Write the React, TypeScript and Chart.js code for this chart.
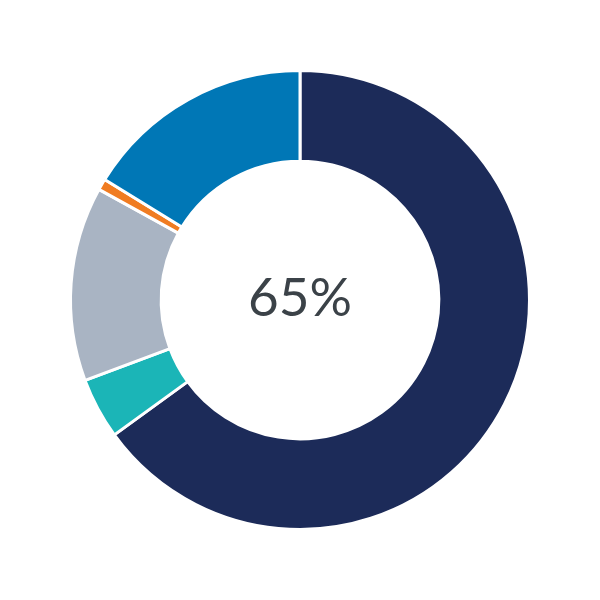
import React, { useEffect, useRef } from "react";
import { Chart, registerables } from "chart.js";

Chart.register(...registerables);

const categories = ["Navy", "Teal", "Gray", "Orange", "Blue"];
const values = [65, 4.3, 13.7, 0.8, 16.2];
const colors = ["#1c2b59", "#1bb5b7", "#a9b4c3", "#f07c22", "#0077b6"];
const centerLabel = "65%";

const centerTextPlugin = {
  id: "centerText",
  afterDraw(chart: any) {
    const meta = chart.getDatasetMeta(0);
    if (!meta || !meta.data.length) return;
    const arc = meta.data[0];
    const ctx = chart.ctx;
    ctx.save();
    ctx.font = "400 53px Lato";
    ctx.fillStyle = "#3b4248";
    ctx.textAlign = "center";
    ctx.textBaseline = "alphabetic";
    ctx.fillText(centerLabel, arc.x, arc.y + 16);
    ctx.restore();
  },
};

export default function App() {
  const ref = useRef<HTMLCanvasElement>(null);
  useEffect(() => {
    document.body.style.margin = "0";
    const chart = new Chart(ref.current!, {
      type: "doughnut",
      data: {
        labels: categories,
        datasets: [
          {
            data: values,
            backgroundColor: colors,
            borderColor: "#ffffff",
            borderWidth: 3,
          },
        ],
      },
      options: {
        animation: false,
        responsive: false,
        cutout: "60.5%",
        layout: { padding: 69 },
        plugins: {
          legend: { display: false },
          tooltip: { enabled: false },
        },
      },
      plugins: [centerTextPlugin],
    });
    return () => chart.destroy();
  }, []);
  return (
    <div style={{ width: 600, height: 600, background: "#fff" }}>
      <canvas ref={ref} width={600} height={600} style={{ width: 600, height: 600 }} />
    </div>
  );
}
